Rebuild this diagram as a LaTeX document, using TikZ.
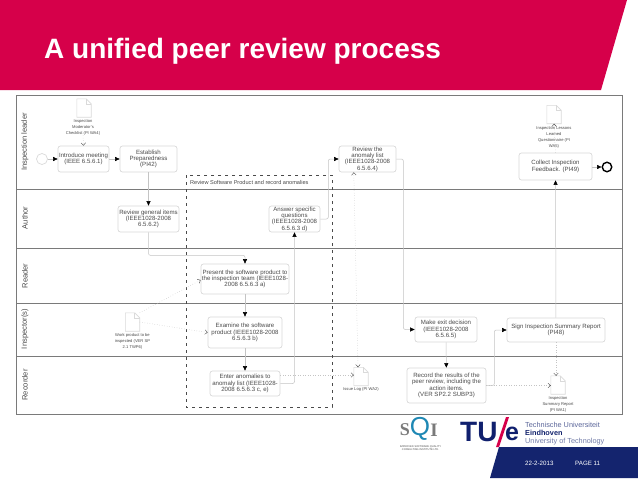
\documentclass[tikz,border=0pt]{standalone}
\usepackage{fontspec}
\setmainfont{Liberation Sans}
\newfontfamily\serifface{Liberation Serif}
\usetikzlibrary{arrows.meta}
\definecolor{banner}{HTML}{D6004A}
\definecolor{navy}{HTML}{14246E}
\definecolor{tublue}{HTML}{10206E}
\definecolor{qblue}{HTML}{1E88B4}
\definecolor{lane}{HTML}{7A7A7A}
\definecolor{wire}{HTML}{C4C4C4}
\definecolor{boxline}{HTML}{DADADA}
\definecolor{ink}{HTML}{4A4A4A}
\newcommand{\docshape}[1]{%
  \draw[docline] (#1.south west) -- (#1.north west) -- ([xshift=-5pt]#1.north east) -- ([yshift=-5pt]#1.north east) -- (#1.south east) -- cycle;
  \draw[docline] ([xshift=-5pt]#1.north east) -- ([xshift=-5pt,yshift=-5pt]#1.north east) -- ([yshift=-5pt]#1.north east);}
\tikzset{
  x=1pt,y=-1pt,
  task/.style={draw=boxline,line width=0.7pt,rounded corners=2.5pt,inner sep=0pt,align=center,text=ink,font=\fontsize{6.1}{6.3}\selectfont},
  doc/.style={inner sep=0pt,minimum width=14pt,minimum height=18pt},
  docline/.style={draw=boxline,line width=0.6pt},
  doclabel/.style={inner sep=0pt,align=center,text=ink,font=\fontsize{4.1}{5.8}\selectfont},
  lanelabel/.style={rotate=90,inner sep=0pt,text=ink,font=\fontsize{7.6}{9}\selectfont},
  flow/.style={draw=wire,line width=0.5pt,rounded corners=2pt,-{Triangle[length=4.5pt,width=4pt,color=black]}},
  assoc/.style={draw=wire,line width=0.5pt,dotted,-{Straight Barb[length=2.5pt,width=4.5pt,color=ink,line width=0.4pt,sep=0pt]}},
  assocboth/.style={draw=wire,line width=0.5pt,dotted,{Straight Barb[length=2.5pt,width=4.5pt,color=ink,line width=0.4pt]}-{Straight Barb[length=2.5pt,width=4.5pt,color=ink,line width=0.4pt]}},
  lanerule/.style={draw=lane,line width=0.7pt},
  unitext/.style={anchor=base west,inner sep=0pt,text height=5.4pt,text depth=1.4pt},
}
\begin{document}
\begin{tikzpicture}
\useasboundingbox (0,0) rectangle (638,479);
\fill[white] (0,0) rectangle (638,479);
% banner
\fill[banner] (0,0) -- (627,0) -- (601,90) -- (0,90) -- cycle;
\node[anchor=base west,inner sep=0pt,text=white,font=\fontsize{28}{30}\selectfont\bfseries] (title) at (44,58) {A unified peer review process};
% lanes
\draw[lanerule] (16,95) rectangle (622,414);
\foreach \y in {189,248.7,303,356} \draw[lanerule] (16,\y) -- (622,\y);
\node[lanelabel] (l1) at (25,142) {Inspection leader};
\node[lanelabel] (l2) at (25,218) {Author};
\node[lanelabel] (l3) at (25,276) {Reader};
\node[lanelabel] (l4) at (25,329) {Inspector(s)};
\node[lanelabel] (l5) at (25,385) {Recorder};
% group
\draw[draw=ink,line width=0.6pt,dashed,dash pattern=on 3pt off 4pt] (186,175) rectangle (332,407);
\node[anchor=west,inner sep=0pt,text=ink,font=\fontsize{5.6}{6}\selectfont] (grp) at (190,182.5) {Review Software Product and record anomalies};
% events
\node[draw=boxline,circle,line width=0.7pt,minimum size=11pt,inner sep=0pt] (start) at (42,159) {};
\node[draw=black,circle,line width=1.4pt,minimum size=9.5pt,inner sep=0pt] (end) at (607,167) {};
% tasks
\node[task,minimum width=51pt,minimum height=26pt] (intro) at (83.5,159) {Introduce meeting\\(IEEE 6.5.6.1)};
\node[task,minimum width=57pt,minimum height=26pt] (prep) at (148.5,159) {Establish\\Preparedness\\(PI42)};
\node[task,minimum width=61pt,minimum height=26pt] (general) at (148.5,219) {Review general items\\(IEEE1028-2008\\6.5.6.2)};
\node[task,minimum width=51pt,minimum height=26pt] (answer) at (294.5,219) {Answer specific\\questions\\(IEEE1028-2008\\6.5.6.3 d)};
\node[task,minimum width=57pt,minimum height=26pt] (anomaly) at (367.5,159) {Review the\\anomaly list\\(IEEE1028-2008\\6.5.6.4)};
\node[task,minimum width=73pt,minimum height=27pt] (collect) at (555.5,166.5) {Collect Inspection\\Feedback. (PI49)};
\node[task,minimum width=88pt,minimum height=30pt] (present) at (245,279) {Present the software product to\\the inspection team (IEEE1028-\\2008 6.5.6.3 a)};
\node[task,minimum width=74pt,minimum height=31pt] (examine) at (245,332.5) {Examine the software\\product (IEEE1028-2008\\6.5.6.3 b)};
\node[task,minimum width=70pt,minimum height=25pt] (enter) at (245,383.5) {Enter anomalies to\\anomaly list (IEEE1028-\\2008 6.5.6.3 c, e)};
\node[task,minimum width=62pt,minimum height=25pt] (exit) at (446,329.5) {Make exit decision\\(IEEE1028-2008\\6.5.6.5)};
\node[task,minimum width=98pt,minimum height=24pt] (sign) at (556,330) {Sign Inspection Summary Report\\(PI48)};
\node[task,minimum width=79pt,minimum height=35pt] (record) at (446.5,385.5) {Record the results of the\\peer review, including the\\action items.\\(VER SP2.2 SUBP3)};
% documents
\node[doc] (d1) at (84,108) {}; \docshape{d1}
\node[doc] (d2) at (554,114.5) {}; \docshape{d2}
\node[doc] (d3) at (132.5,322) {}; \docshape{d3}
\node[doc] (d4) at (361,376.5) {}; \docshape{d4}
\node[doc] (d5) at (558,385) {}; \docshape{d5}
\node[doclabel,anchor=north] (t1) at (83,119.5) {Inspection\\Moderator's\\Checklist (PI WA4)};
\node[doclabel,anchor=north] (t2) at (554,126.5) {Inspection Lessons\\Learned\\Questionnaire (PI\\WA5)};
\node[doclabel,anchor=north] (t3) at (132.5,333.5) {Work product to be\\inspected (VER SP\\2.1 TWP6)};
\node[doclabel,anchor=north] (t4) at (361,387.5) {Issue Log (PI WA2)};
\node[doclabel,anchor=north] (t5) at (558,396.5) {Inspection\\Summary Report\\(PI WA1)};
% sequence flows
\draw[flow] (start) -- (intro);
\draw[flow] (intro) -- (prep);
\draw[flow] (prep) -- (general);
\draw[flow] (general.south) -- ++(0,23) -| (present.north);
\draw[flow] (present) -- (examine);
\draw[flow] (examine) -- (enter);
\draw[flow] (enter.east) -| (answer.south);
\draw[flow] (answer.east) -- ++(8,0) |- (anomaly.west);
\draw[flow] (anomaly.east) -- ++(7,0) |- (exit.west);
\draw[flow] (exit) -- (record);
\draw[flow] (record.east) -- ++(8,0) |- (sign.west);
\draw[flow] (sign) -- (collect);
\draw[flow] (collect.east |- end) -- (end);
% associations
\draw[assoc] (t1.south) -- (intro.north);
\draw[assoc] (collect.north) -- (d2.south);
\draw[assoc] (d3.north east) -- (present.west |- 0,280);
\draw[assoc] (d3.east) -- (examine.west);
\draw[assoc] (enter.east |- 0,375) -- (d4.west |- 0,375);
\draw[assocboth] (anomaly.south -| d4.west) -- ([xshift=-3pt]d4.north);
\draw[assoc] (record.east) -- (d5.west |- record.east);
\draw[assoc] (sign.south) -- ([xshift=-2pt]d5.north);
% SQI logo
\node[inner sep=0pt,text=lane,font=\serifface\bfseries\fontsize{18}{18}\selectfont] (sq) at (405,430) {S};
\node[inner sep=0pt,text=qblue,font=\fontsize{26}{26}\selectfont] (qq) at (420,429) {Q};
\node[inner sep=0pt,text=lane,font=\serifface\bfseries\fontsize{19}{19}\selectfont] (si) at (434,430) {I};
\node[inner sep=0pt,align=center,text=ink,font=\fontsize{2.6}{3.2}\selectfont] (st) at (420.5,448) {IMPROVED SOFTWARE QUALITY\\CONSULTING INSTITUTE LTD.};
% TU/e logo
\node[anchor=west,inner sep=0pt,text=tublue,font=\bfseries\fontsize{28}{28}\selectfont] (tu) at (460,432) {TU};
\fill[banner] (506,417) -- (509,417) -- (499,447) -- (496,447) -- cycle;
\node[anchor=west,inner sep=0pt,text=tublue,font=\bfseries\fontsize{25}{25}\selectfont] (ee) at (505,434) {e};
\node[unitext,text=navy!70!white,font=\fontsize{7.3}{7.5}\selectfont] (u1) at (525,427) {Technische Universiteit};
\node[unitext,text=navy,font=\bfseries\fontsize{7.3}{7.5}\selectfont] (u2) at (525,435) {Eindhoven};
\node[unitext,text=navy!60!white,font=\fontsize{7.3}{7.5}\selectfont] (u3) at (525,443) {University of Technology};
% bottom banner
\fill[navy] (499,447) -- (638,447) -- (638,478) -- (490,478) -- cycle;
\node[anchor=west,inner sep=0pt,text=white,font=\fontsize{6.2}{7}\selectfont] (dt) at (525,463.5) {22-2-2013};
\node[anchor=west,inner sep=0pt,text=white,font=\fontsize{6.2}{7}\selectfont] (pg) at (575,463.5) {PAGE 11};
\end{tikzpicture}
\end{document}
